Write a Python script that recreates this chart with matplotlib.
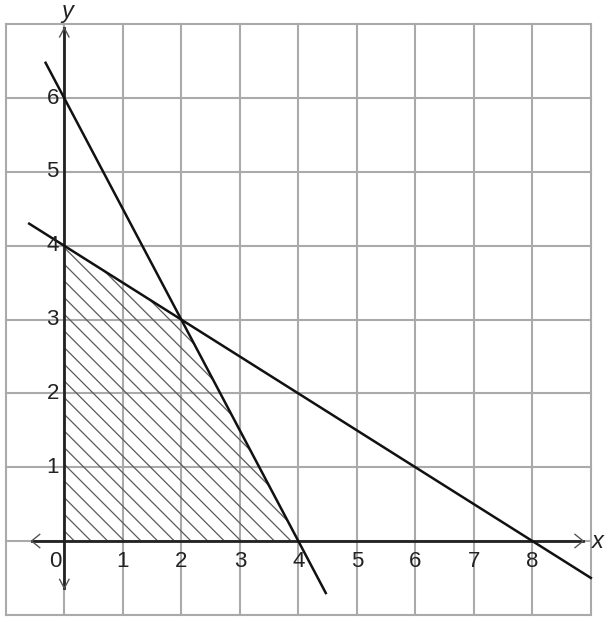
import numpy as np
import matplotlib
matplotlib.use("Agg")
import matplotlib.pyplot as plt
from matplotlib.patches import Polygon
from matplotlib import font_manager

names = {f.name for f in font_manager.fontManager.ttflist}
fam = ['Liberation Sans Narrow'] if 'Liberation Sans Narrow' in names else ['Liberation Sans']
plt.rcParams['font.family'] = fam + ['DejaVu Sans']
plt.rcParams['hatch.linewidth'] = 0.9

# Data
x_tick_labels = [0, 1, 2, 3, 4, 5, 6, 7, 8]
y_tick_labels = [1, 2, 3, 4, 5, 6]
# constraint lines: a*x + b*y = c
line1_coef = (3, 2, 12)   # y = 6 - 1.5x
line1_xrange = (-0.32, 4.47)
line2_coef = (1, 2, 8)    # y = 4 - 0.5x
line2_xrange = (-0.6, 9.0)
feasible_x = [0, 4, 2, 0]
feasible_y = [0, 0, 3, 4]

fig = plt.figure(figsize=(6.09, 6.22), dpi=100)
ax = fig.add_axes([5.8/609, (622-614.8)/622, (590.8-5.8)/609, (614.8-24.4)/622])
ax.set_xlim(-1, 9)
ax.set_ylim(-1, 7)
ax.set_axis_off()

grid_c = '#aaaaaa'
for gx in range(-1, 10):
    ax.plot([gx, gx], [-1, 7], color=grid_c, lw=1.5, zorder=1, clip_on=False)
for gy in range(-1, 8):
    ax.plot([-1, 9], [gy, gy], color=grid_c, lw=1.5, zorder=1, clip_on=False)

# hatched feasible region
poly = Polygon(np.column_stack([feasible_x, feasible_y]), closed=True,
               facecolor='none', edgecolor='#5a5a5a', hatch='\\\\', lw=0, zorder=2)
ax.add_patch(poly)

# axes with open arrowheads
ax.plot([-0.56, 8.87], [0, 0], color='#222222', lw=2, zorder=3)
ax.plot([0, 0], [-0.64, 6.95], color='#222222', lw=2, zorder=3)
arrow_c = '#555555'
dx, dy = 0.14, 0.09
ax.plot([-0.56 + dx, -0.56, -0.56 + dx], [dy, 0, -dy], color=arrow_c, lw=1, zorder=3)
ax.plot([8.87 - dx, 8.87, 8.87 - dx], [dy, 0, -dy], color=arrow_c, lw=1, zorder=3)
ax.plot([-0.08, 0, 0.08], [6.95 - 0.12, 6.95, 6.95 - 0.12], color=arrow_c, lw=1, zorder=3)
ax.plot([-0.08, 0, 0.08], [-0.64 + 0.12, -0.64, -0.64 + 0.12], color=arrow_c, lw=1, zorder=3)

# constraint lines
for (a, b, c), (x0, x1) in [(line1_coef, line1_xrange), (line2_coef, line2_xrange)]:
    xs = np.array([x0, x1])
    ys = (c - a * xs) / b
    ax.plot(xs, ys, color='#111111', lw=1.8, zorder=4, clip_on=False)

# tick labels
fs = 16
for v in x_tick_labels:
    xp = -0.15 if v == 0 else v
    ax.text(xp, -0.28, str(v), ha='center', va='center', fontsize=fs, color='#222222', zorder=5)
for v in y_tick_labels:
    ax.text(-0.2, v, str(v), ha='center', va='center', fontsize=fs, color='#222222', zorder=5)

ax.text(9.12, 0.0, 'x', ha='center', va='center', fontsize=17, style='italic',
        color='#222222', clip_on=False)
ax.text(0.05, 7.17, 'y', ha='center', va='center', fontsize=17, style='italic',
        color='#222222', clip_on=False)

fig.savefig('out.png', dpi=100, facecolor='white')
